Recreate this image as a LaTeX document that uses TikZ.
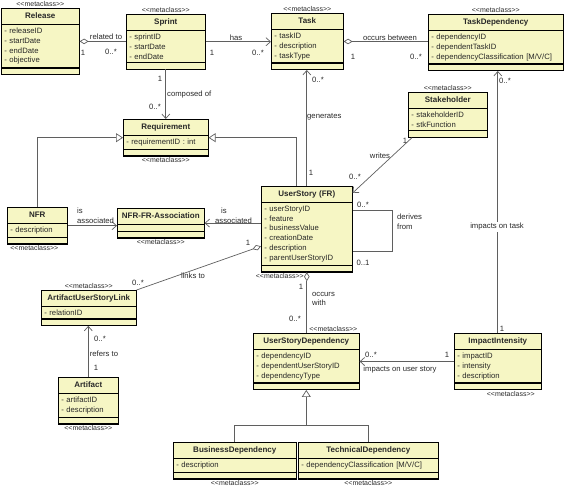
\documentclass[tikz,border=0pt]{standalone}
\usepackage{fontspec}
\setmainfont{Liberation Sans}
\usetikzlibrary{arrows.meta, positioning, shapes.multipart, calc}

\definecolor{clsfill}{RGB}{246,246,196}
\definecolor{linegray}{RGB}{95,95,95}
\definecolor{txtgray}{RGB}{40,40,40}
\newcommand\clstitle[1]{\strut\hspace*{\fill}\textbf{\fontsize{8}{9.8}\selectfont #1}\hspace*{\fill}}

\begin{document}
\begin{tikzpicture}[x=1pt, y=-1pt,
    cls/.style={rectangle split, rectangle split parts=3, draw=black, line width=0.6pt,
        postaction={draw=black, line width=1.3pt}, fill=clsfill,
        text width=#1, align=left,
        inner xsep=3pt, inner ysep=3pt, rectangle split empty part height=4pt,
        anchor=north west, font=\fontsize{7.7}{9.8}\selectfont, text=txtgray},
    stereo/.style={font=\fontsize{7}{8}\selectfont, inner sep=1pt, text=txtgray},
    lbl/.style={font=\fontsize{7.7}{9.8}\selectfont, inner sep=1pt, text=txtgray},
    assoc/.style={draw=linegray, line width=0.7pt},
    nav/.style={assoc, -{Straight Barb[length=4.5pt,width=8pt]}},
    aggr/.style={assoc, {Diamond[fill=white,length=9pt,width=5.5pt]}-},
    gen/.style={assoc, -{Triangle[fill=white,length=7pt,width=9pt]}}
]
\useasboundingbox (0,0) rectangle (568,488);

% Classes, top row
\node[cls=72pt] (release) at (1,8) {\clstitle{Release}
    \nodepart{two}- releaseID\\- startDate\\- endDate\\- objective
    \nodepart{three}};
\node[cls=73pt] (sprint) at (126,14) {\clstitle{Sprint}
    \nodepart{two}- sprintID\\- startDate\\- endDate
    \nodepart{three}};
\node[cls=66pt] (task) at (271,13) {\clstitle{Task}
    \nodepart{two}- taskID\\- description\\- taskType
    \nodepart{three}};
\node[cls=129pt] (taskdep) at (428,14) {\clstitle{TaskDependency}
    \nodepart{two}- dependencyID\\- dependentTaskID\\- dependencyClassification [M/V/C]
    \nodepart{three}};

% Classes, middle
\node[cls=73pt] (stake) at (408,92) {\clstitle{Stakeholder}
    \nodepart{two}- stakeholderID\\- stkFunction
    \nodepart{three}};
\node[cls=79pt] (req) at (123,119) {\clstitle{Requirement}
    \nodepart{two}- requirementID : int
    \nodepart{three}};
\node[cls=54pt] (nfr) at (7,207) {\clstitle{NFR}
    \nodepart{two}- description
    \nodepart{three}};
\node[cls=81pt] (nfrfr) at (117,208) {\clstitle{NFR-FR-Association}
    \nodepart{two}
    \nodepart{three}};
\node[cls=85pt] (us) at (261,186) {\clstitle{UserStory (FR)}
    \nodepart{two}- userStoryID\\- feature\\- businessValue\\- creationDate\\- description\\- parentUserStoryID
    \nodepart{three}};

% Classes, bottom
\node[cls=89pt] (ausl) at (41,290) {\clstitle{ArtifactUserStoryLink}
    \nodepart{two}- relationID
    \nodepart{three}};
\node[cls=54pt] (artifact) at (58,377) {\clstitle{Artifact}
    \nodepart{two}- artifactID\\- description
    \nodepart{three}};
\node[cls=100pt] (usd) at (253,333) {\clstitle{UserStoryDependency}
    \nodepart{two}- dependencyID\\- dependentUserStoryID\\- dependencyType
    \nodepart{three}};
\node[cls=81pt] (impact) at (454,333) {\clstitle{ImpactIntensity}
    \nodepart{two}- impactID\\- intensity\\- description
    \nodepart{three}};
\node[cls=117pt] (busdep) at (173,442) {\clstitle{BusinessDependency}
    \nodepart{two}- description
    \nodepart{three}};
\node[cls=134pt] (techdep) at (298,442) {\clstitle{TechnicalDependency}
    \nodepart{two}- dependencyClassification [M/V/C]
    \nodepart{three}};

% Stereotypes
\node[stereo, above=0pt of release] (releaseST) {<{}<metaclass>{}>};
\node[stereo, above=0pt of sprint] (sprintST) {<{}<metaclass>{}>};
\node[stereo, above=0pt of task] (taskST) {<{}<metaclass>{}>};
\node[stereo, above=0pt of taskdep] (taskdepST) {<{}<metaclass>{}>};
\node[stereo, above=0pt of stake] (stakeST) {<{}<metaclass>{}>};
\node[stereo, below=0pt of req] (reqST) {<{}<metaclass>{}>};
\node[stereo, below=0pt of nfr, xshift=-3pt] (nfrST) {<{}<metaclass>{}>};
\node[stereo, below=0pt of nfrfr] (nfrfrST) {<{}<metaclass>{}>};
\node[stereo, below=0pt of us, xshift=-27pt] (usST) {<{}<metaclass>{}>};
\node[stereo, above=0pt of ausl] (auslST) {<{}<metaclass>{}>};
\node[stereo, below=0pt of artifact] (artifactST) {<{}<metaclass>{}>};
\node[stereo, above=0pt of usd, xshift=27pt] (usdST) {<{}<metaclass>{}>};
\node[stereo, below=0pt of impact, xshift=13pt] (impactST) {<{}<metaclass>{}>};
\node[stereo, below=0pt of busdep] (busdepST) {<{}<metaclass>{}>};
\node[stereo, below=0pt of techdep] (techdepST) {<{}<metaclass>{}>};

% Associations
\draw[aggr] (release.east) -- (release.east -| sprint.west);
\draw[nav] (sprint.east) -- (sprint.east -| task.west);
\draw[aggr] (task.east) -- (task.east -| taskdep.west);
\draw[nav] (sprint.south) -- (sprint.south |- req.north);
\draw[nav] (us.north) -- (us.north |- task.south);
\draw[nav] (impact.north) -- (impact.north |- taskdep.south);
\draw[nav] (nfr.east) -- (nfr.east -| nfrfr.west);
\draw[nav] (us.west |- nfrfr.east) -- (nfrfr.east);
\draw[nav] ([xshift=4pt]stake.south west) -- ([yshift=-7pt]us.north east);
\draw[assoc] ([yshift=-24pt]us.north east) -- ++(40,0) |- ([yshift=21pt]us.south east);
\draw[aggr] ([yshift=26pt]us.south west) -- (ausl.north east);
\draw[nav] (artifact.north) -- (artifact.north |- ausl.south);
\draw[aggr] (us.south) -- (us.south |- usd.north);
\draw[nav] (impact.west) -- (impact.west -| usd.east);

% Generalizations
\draw[gen] (nfr.north) |- (req.west);
\draw[gen] ([xshift=-10pt]us.north) |- (req.east);
\coordinate (genjoin) at ($(usd.south)+(0,35)$);
\draw[gen] (genjoin) -- (usd.south);
\draw[assoc] (busdep.north) |- (genjoin) -| (techdep.north);

% Association labels
\node[lbl] (relto) at (106,37) {related to};
\node[lbl] (relto1) at (83,53) {1};
\node[lbl] (relto2) at (111,52) {0..*};
\node[lbl] (has) at (236,38) {has};
\node[lbl] (has1) at (212,53) {1};
\node[lbl] (has2) at (258,53) {0..*};
\node[lbl] (occb) at (390,38) {occurs between};
\node[lbl] (occb1) at (353,57) {1};
\node[lbl] (occb2) at (416,57) {0..*};
\node[lbl, anchor=west] (comp) at (166,95) {composed of};
\node[lbl] (comp1) at (160,79) {1};
\node[lbl] (comp2) at (155,107) {0..*};
\node[lbl, anchor=west] (gener) at (306,117) {generates};
\node[lbl] (gener1) at (311,173) {1};
\node[lbl] (gener2) at (318,80) {0..*};
\node[lbl, fill=white] (imptask) at (497,227) {impacts on task};
\node[lbl] (imptask1) at (502,329) {1};
\node[lbl] (imptask2) at (505,81) {0..*};
\node[lbl, align=left, anchor=west] (isassA) at (76,216) {is\\associated};
\node[lbl, align=left, anchor=west] (isassB) at (214,216) {\hspace{6pt}is\\associated};
\node[lbl] (writes) at (380,156) {writes};
\node[lbl] (writes1) at (405,141) {1};
\node[lbl] (writes2) at (355,177) {0..*};
\node[lbl, align=left, anchor=west] (derives) at (396,222) {derives\\from};
\node[lbl] (derives1) at (363,205) {0..*};
\node[lbl] (derives2) at (363,263) {0..1};
\node[lbl] (links) at (193,276) {links to};
\node[lbl] (links1) at (248,243) {1};
\node[lbl] (links2) at (138,283) {0..*};
\node[lbl] (refers) at (104,354) {refers to};
\node[lbl] (refers1) at (96,368) {1};
\node[lbl] (refers2) at (100,339) {0..*};
\node[lbl, align=left, anchor=west] (occw) at (311,299) {occurs\\with};
\node[lbl] (occw1) at (301,287) {1};
\node[lbl] (occw2) at (295,319) {0..*};
\node[lbl] (impus) at (400,370) {impacts on user story};
\node[lbl] (impus1) at (447,355) {1};
\node[lbl] (impus2) at (371,355) {0..*};

\end{tikzpicture}
\end{document}
